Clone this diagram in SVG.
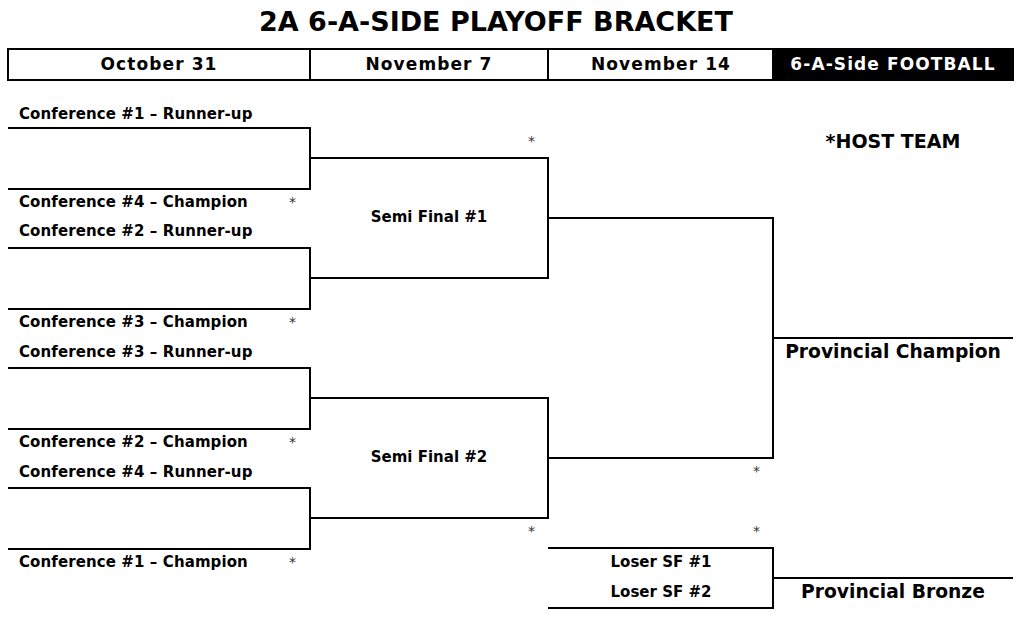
<svg xmlns="http://www.w3.org/2000/svg" width="1024" height="628" viewBox="0 0 1024 628">
<style>
text{font-family:"DejaVu Sans","Liberation Sans",sans-serif;font-weight:bold;fill:#000}
.t{font-size:27px;text-anchor:middle}
.h{font-size:17px;letter-spacing:1.1px;text-anchor:middle}
.l{font-size:15px;letter-spacing:0.1px}
.c{font-size:15px;text-anchor:middle}
.s{font-size:14px;font-weight:normal;fill:#333}
.b{font-size:18.7px;text-anchor:middle}
.ln{stroke:#000;stroke-width:2;fill:none}
</style>
<rect width="1024" height="628" fill="#fff"/>
<text class="t" x="496" y="31">2A 6-A-SIDE PLAYOFF BRACKET</text>
<g id="header">
<rect x="8" y="49" width="1005" height="31" fill="#fff" stroke="#000" stroke-width="2"/>
<rect x="773" y="49" width="240" height="31" fill="#000" stroke="#000" stroke-width="2"/>
<line class="ln" x1="310" y1="49" x2="310" y2="80"/>
<line class="ln" x1="548" y1="49" x2="548" y2="80"/>
<text class="h" x="159" y="70">October 31</text>
<text class="h" x="429" y="70">November 7</text>
<text class="h" x="661" y="70">November 14</text>
<text class="h" x="893" y="70" style="fill:#fff">6-A-Side FOOTBALL</text>
</g>
<g id="connectors">
<path class="ln" d="M8 128H310V189H8"/>
<path class="ln" d="M8 248H310V309H8"/>
<path class="ln" d="M8 368H310V429H8"/>
<path class="ln" d="M8 488H310V549H8"/>
<path class="ln" d="M310 158H548V278H310"/>
<path class="ln" d="M310 398H548V518H310"/>
<path class="ln" d="M548 218H773V458H548"/>
<path class="ln" d="M773 338H1013"/>
<path class="ln" d="M548 548H773V608H548"/>
<path class="ln" d="M773 578H1013"/>
</g>
<g id="r1">
<text class="l" x="19" y="119">Conference #1 – Runner-up</text>
<text class="l" x="19" y="207">Conference #4 – Champion</text>
<text class="l" x="19" y="236">Conference #2 – Runner-up</text>
<text class="l" x="19" y="327">Conference #3 – Champion</text>
<text class="l" x="19" y="357">Conference #3 – Runner-up</text>
<text class="l" x="19" y="447">Conference #2 – Champion</text>
<text class="l" x="19" y="477">Conference #4 – Runner-up</text>
<text class="l" x="19" y="567">Conference #1 – Champion</text>
</g>
<g id="hosts">
<text class="s" x="289" y="207">*</text>
<text class="s" x="289" y="327">*</text>
<text class="s" x="289" y="447">*</text>
<text class="s" x="289" y="567">*</text>
<text class="s" x="528" y="146">*</text>
<text class="s" x="528" y="536">*</text>
<text class="s" x="753" y="476">*</text>
<text class="s" x="753" y="536">*</text>
</g>
<g id="sf1"><text class="c" x="429" y="222">Semi Final #1</text></g>
<g id="sf2"><text class="c" x="429" y="462">Semi Final #2</text></g>
<g id="host"><text class="b" x="893" y="148" style="font-size:19px">*HOST TEAM</text></g>
<g id="champ"><text class="b" x="893" y="358">Provincial Champion</text></g>
<g id="losers">
<text class="c" x="661" y="567">Loser SF #1</text>
<text class="c" x="661" y="597">Loser SF #2</text>
</g>
<g id="bronze"><text class="b" x="893" y="598">Provincial Bronze</text></g>
</svg>
